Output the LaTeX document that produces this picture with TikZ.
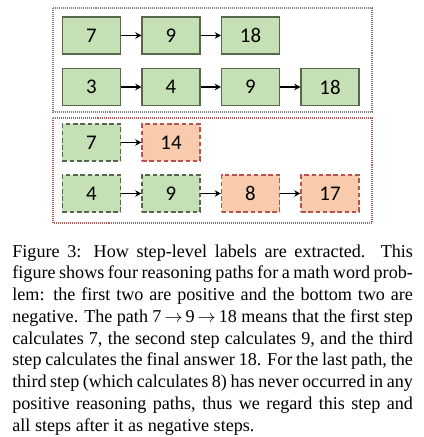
\documentclass[tikz,border=0pt]{standalone}
\usepackage{fontspec}
\setmainfont{Liberation Serif}
\newfontfamily\boxfont{Carlito}
\usetikzlibrary{arrows.meta}
\definecolor{gfill}{HTML}{C5E0B4}
\definecolor{gdraw}{HTML}{56684C}
\definecolor{ofill}{HTML}{F8CBAD}
\definecolor{odraw}{HTML}{B8544F}
\definecolor{outA}{HTML}{7F7F7F}
\definecolor{outB}{HTML}{A8605C}
\begin{document}
\begin{tikzpicture}[x=0.5517pt,y=-0.5517pt,
  stepbox/.style={rectangle, minimum width=32pt, minimum height=20.4pt,
    inner sep=0pt, line width=0.6pt, font=\boxfont\fontsize{11.5pt}{13pt}\selectfont},
  posbox/.style={stepbox, fill=gfill, draw=gdraw},
  negg/.style={stepbox, fill=gfill, draw=gdraw, line width=0.75pt, dash pattern=on 2.6pt off 1.4pt},
  nego/.style={stepbox, fill=ofill, draw=odraw, line width=0.75pt, dash pattern=on 2.6pt off 1.4pt},
  arr/.style={-{Stealth[length=3.4pt,width=3.6pt]}, line width=0.7pt, black},
  outer/.style={line width=0.6pt, dash pattern=on 0.55pt off 0.55pt}]
\useasboundingbox (0,0) rectangle (423,437);
\draw[outer, draw=outA] (53,8) rectangle (372,112);
\draw[outer, draw=outB] (53,118) rectangle (372,223);
% row 1
\node[posbox] (a1) at (91.5,35.5) {7};
\node[posbox] (a2) at (171,35.5) {9};
\node[posbox] (a3) at (250.5,35.5) {18};
% row 2
\node[posbox] (b1) at (91.5,87) {3};
\node[posbox] (b2) at (171,87) {4};
\node[posbox] (b3) at (250.5,87) {9};
\node[posbox] (b4) at (330,87) {18};
% row 3
\node[negg] (c1) at (91.5,142.5) {7};
\node[nego] (c2) at (171,142.5) {14};
% row 4
\node[negg] (d1) at (91.5,193.5) {4};
\node[negg] (d2) at (171,193.5) {9};
\node[nego] (d3) at (250.5,193.5) {8};
\node[nego] (d4) at (330,193.5) {17};
\draw[arr] (a1) -- (a2);
\draw[arr] (a2) -- (a3);
\draw[arr] (b1) -- (b2);
\draw[arr] (b2) -- (b3);
\draw[arr] (b3) -- (b4);
\draw[arr] (c1) -- (c2);
\draw[arr] (d1) -- (d2);
\draw[arr] (d2) -- (d3);
\draw[arr] (d3) -- (d4);
\node[anchor=base west, inner sep=0pt] (cap) at (12,257) {\parbox[t]{221pt}{\fontsize{10pt}{12pt}\selectfont
Figure 3: How step-level labels are extracted.\ \ This\linebreak
figure shows four reasoning paths for a math word prob-\linebreak
lem: the first two are positive and the bottom two are\linebreak
negative. The path \mbox{7\,$\rightarrow$\,9\,$\rightarrow$\,18} means that the first step\linebreak
calculates 7, the second step calculates 9, and the third\linebreak
step calculates the final answer 18. For the last path, the\linebreak
third step (which calculates 8) has never occurred in any\linebreak
positive reasoning paths, thus we regard this step and\linebreak
all steps after it as negative steps.}};
\end{tikzpicture}
\end{document}
